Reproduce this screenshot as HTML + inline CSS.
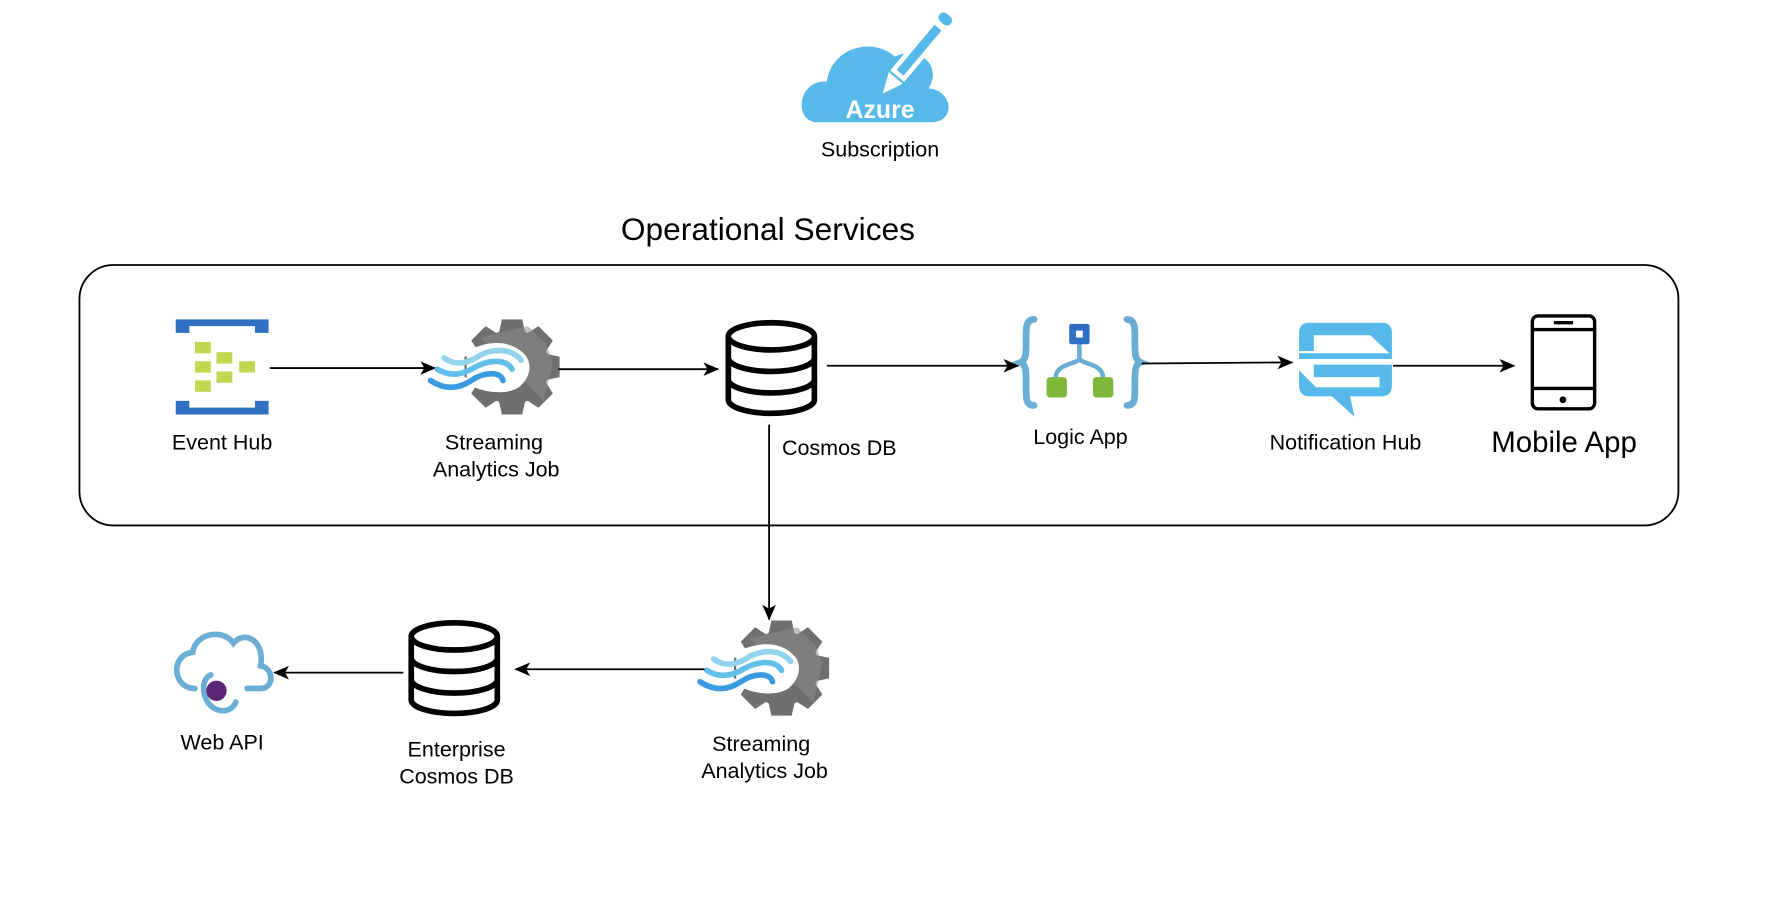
<!DOCTYPE html>
<html><head><meta charset="utf-8"><style>
html,body{margin:0;padding:0;background:#fff;}
svg{display:block;}
text{font-family:"Liberation Sans",Arial,sans-serif;fill:#000;}
</style></head><body>
<svg width="1776" height="898" viewBox="0 0 1568 793" xmlns="http://www.w3.org/2000/svg">
<defs>
<marker id="ah" markerWidth="14" markerHeight="12" refX="13" refY="6" orient="auto" markerUnits="userSpaceOnUse">
<path d="M0,0 L14,6 L0,12 L3.5,6 Z" fill="#000"/>
</marker>
<g id="gear">
 <g fill="#6f6f6f">
  <circle cx="0" cy="0" r="33"/>
  <g id="tooth"><path d="M-9,-42 H9 L12,-28 H-12 Z"/></g>
  <use href="#tooth" transform="rotate(45)"/>
  <use href="#tooth" transform="rotate(90)"/>
  <use href="#tooth" transform="rotate(135)"/>
  <use href="#tooth" transform="rotate(180)"/>
  <use href="#tooth" transform="rotate(225)"/>
  <use href="#tooth" transform="rotate(270)"/>
  <use href="#tooth" transform="rotate(315)"/>
 </g>
 <path d="M-28,-26 L28,30 L36,-4 L30,-20 L14,-36 Z" fill="#8a8a8a" opacity="0.55"/>
 <path d="M-40,-14 C-20,-24 0,-24 12,-10 C18,-2 16,10 6,18 C-6,26 -30,22 -40,14 Z" fill="#fff"/>
 <g fill="none" stroke-linecap="round" stroke-width="5">
  <path d="M-60,-8 C-52,-2 -42,-2 -32,-8 C-20,-16 -2,-18 8,-6" stroke="#92d4ee"/>
  <path d="M-66,2 C-56,8 -46,8 -34,1 C-22,-6 -6,-8 0,2" stroke="#62bfea"/>
  <path d="M-72,12 C-60,20 -48,20 -36,12 C-24,4 -10,4 -8,12" stroke="#3a9be0"/>
 </g>
</g>
<g id="db" fill="#fff" stroke="#000" stroke-width="5">
 <path d="M2,14 L2,70 A38,12 0 0 0 78,70 L78,14"/>
 <ellipse cx="40" cy="14" rx="38" ry="12"/>
 <path d="M2,33 A38,12 0 0 0 78,33 M2,52 A38,12 0 0 0 78,52" fill="none"/>
</g>
</defs>

<!-- Azure subscription -->
<g>
 <path d="M722,108 C700,108 704,70 730,72 C734,42 770,32 790,50 C812,40 832,58 820,78 C842,80 844,108 822,108 Z" fill="#57b9ea"/>
 <g transform="translate(805,52) rotate(40)">
  <rect x="-8" y="-40" width="16" height="60" fill="#fff"/>
  <rect x="-4" y="-36" width="8" height="52" fill="#57b9ea"/>
  <polygon points="-8,22 8,22 0,40" fill="#fff"/>
  <rect x="-8" y="-52" width="16" height="12" rx="6" fill="#57b9ea" stroke="#fff" stroke-width="3"/>
 </g>
 <text x="777" y="104" text-anchor="middle" font-size="22" font-weight="bold" style="fill:#fff">Azure</text>
 <text x="777" y="138" text-anchor="middle" font-size="19">Subscription</text>
</g>

<text x="678" y="212" text-anchor="middle" font-size="28">Operational Services</text>
<rect x="70" y="234" width="1412" height="230" rx="30" fill="none" stroke="#000" stroke-width="1.6"/>

<!-- Event hub -->
<g>
 <path d="M155,282 H237 V294 H225 V288 H167 V294 H155 Z" fill="#2f6fc4"/>
 <path d="M155,366 H237 V354 H225 V360 H167 V354 H155 Z" fill="#2f6fc4"/>
 <g fill="#c3d64f">
  <rect x="172" y="302" width="14" height="10"/><rect x="172" y="319" width="14" height="10"/><rect x="172" y="336" width="14" height="10"/>
  <rect x="191" y="311" width="14" height="10"/><rect x="191" y="328" width="14" height="10"/>
  <rect x="211" y="319" width="14" height="10"/>
 </g>
 <text x="196" y="397" text-anchor="middle" font-size="19">Event Hub</text>
</g>
<line x1="238" y1="325" x2="384" y2="325" stroke="#000" stroke-width="1.6" marker-end="url(#ah)"/>

<use href="#gear" transform="translate(452,324)"/>
<text x="436" y="397" text-anchor="middle" font-size="19">Streaming</text>
<text x="438" y="421" text-anchor="middle" font-size="19">Analytics Job</text>
<line x1="493" y1="326" x2="634" y2="326" stroke="#000" stroke-width="1.6" marker-end="url(#ah)"/>

<use href="#db" transform="translate(641,283)"/>
<text x="741" y="402" text-anchor="middle" font-size="19">Cosmos DB</text>
<line x1="730" y1="323" x2="899" y2="323" stroke="#000" stroke-width="1.6" marker-end="url(#ah)"/>

<!-- Logic App -->
<g>
 <g fill="none" stroke="#6aaed6" stroke-width="6" stroke-linecap="round">
  <path d="M913,282 C905,282 906,292 906,300 C906,312 906,318 901,320 C906,322 906,328 906,340 C906,350 905,358 913,358"/>
  <path d="M995,282 C1003,282 1002,292 1002,300 C1002,312 1002,318 1007,320 C1002,322 1002,328 1002,340 C1002,350 1003,358 995,358"/>
  <path d="M953,304 V316 C953,322 932,320 932,334 M953,316 C953,322 974,320 974,334" stroke-width="4"/>
 </g>
 <rect x="944" y="286" width="18" height="18" rx="2" fill="#2f6fc4"/>
 <rect x="950" y="292" width="6" height="6" fill="#fff"/>
 <rect x="924" y="333" width="18" height="18" rx="3" fill="#7db83a"/>
 <rect x="965" y="333" width="18" height="18" rx="3" fill="#7db83a"/>
 <text x="954" y="392" text-anchor="middle" font-size="19">Logic App</text>
</g>
<line x1="1008" y1="321" x2="1141" y2="320" stroke="#000" stroke-width="1.6" marker-end="url(#ah)"/>

<!-- Notification Hub -->
<g>
 <path d="M1147,310 V294 Q1147,285 1156,285 H1220 Q1229,285 1229,294 V314 L1210,296 H1160 V310 Z" fill="#57b9ea"/>
 <path d="M1147,312 H1229 V317 H1147 Z" fill="#57b9ea"/>
 <path d="M1147,322 H1229 V340 Q1229,350 1220,350 H1192 L1196,368 L1176,350 H1156 Q1147,350 1147,340 V327 L1162,342 H1218 V333 H1160 V322 Z" fill="#57b9ea"/>
 <text x="1188" y="397" text-anchor="middle" font-size="19">Notification Hub</text>
</g>
<line x1="1230" y1="323" x2="1337" y2="323" stroke="#000" stroke-width="1.6" marker-end="url(#ah)"/>

<!-- Phone -->
<g fill="none" stroke="#000" stroke-width="3">
 <rect x="1353" y="279" width="55" height="82" rx="5"/>
 <line x1="1353" y1="291" x2="1408" y2="291"/>
 <line x1="1353" y1="343" x2="1408" y2="343"/>
 <line x1="1372" y1="285" x2="1389" y2="285"/>
</g>
<circle cx="1380" cy="353" r="3" fill="#000"/>
<text x="1381" y="399" text-anchor="middle" font-size="26">Mobile App</text>

<!-- lower -->
<line x1="679" y1="375" x2="679" y2="547" stroke="#000" stroke-width="1.6" marker-end="url(#ah)"/>
<use href="#gear" transform="translate(690,590)"/>
<text x="672" y="663" text-anchor="middle" font-size="19">Streaming</text>
<text x="675" y="687" text-anchor="middle" font-size="19">Analytics Job</text>
<line x1="622" y1="591" x2="455" y2="591" stroke="#000" stroke-width="1.6" marker-end="url(#ah)"/>

<use href="#db" transform="translate(361,548)"/>
<text x="403" y="668" text-anchor="middle" font-size="19">Enterprise</text>
<text x="403" y="692" text-anchor="middle" font-size="19">Cosmos DB</text>
<line x1="356" y1="594" x2="242" y2="594" stroke="#000" stroke-width="1.6" marker-end="url(#ah)"/>

<!-- Web API -->
<g>
 <path d="M172,608 C152,608 150,578 170,576 C172,560 196,554 206,568 C216,556 234,566 230,588 C242,590 242,608 230,608 H218" fill="none" stroke="#6aaed6" stroke-width="5" stroke-linecap="round"/>
 <path d="M186,596 C176,600 178,620 190,626 C198,630 206,626 208,620" fill="none" stroke="#6aaed6" stroke-width="5" stroke-linecap="round"/>
 <circle cx="191" cy="610" r="9" fill="#5c2777"/>
 <text x="196" y="662" text-anchor="middle" font-size="19">Web API</text>
</g>
</svg>
</body></html>
